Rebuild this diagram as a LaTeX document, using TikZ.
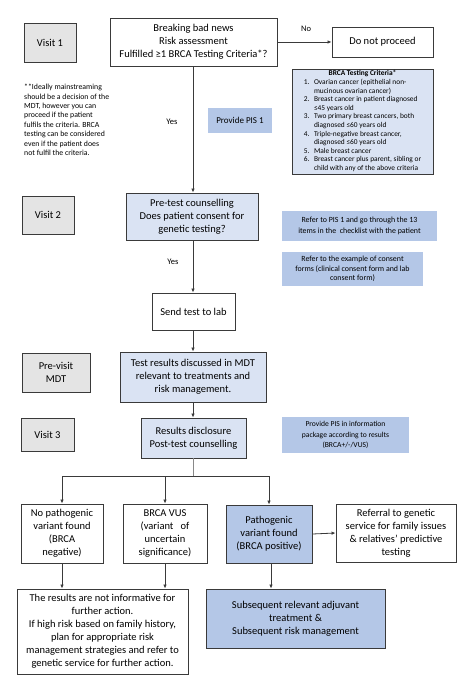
\documentclass[tikz,border=0pt]{standalone}
\usepackage{fontspec}
\setmainfont{Carlito}
\usetikzlibrary{arrows.meta}
\definecolor{lineC}{HTML}{3A3A3A}
\definecolor{grayF}{HTML}{E4E4E4}
\definecolor{lblue}{HTML}{DAE3F3}
\definecolor{mblue}{HTML}{B4C7E7}
\begin{document}
\begin{tikzpicture}[x=1pt,y=-1pt,
  box/.style={draw=lineC,line width=0.9pt,fill=white,align=center,inner sep=1pt,font=\fontsize{10.5}{13}\selectfont},
  visitbox/.style={box,fill=grayF},
  lbox/.style={box,fill=lblue},
  bbox/.style={box,fill=mblue},
  infobox/.style={fill=mblue,align=center,inner sep=1pt,font=\fontsize{8}{10.5}\selectfont},
  lbl/.style={font=\fontsize{8.5}{10}\selectfont,inner sep=0pt},
  conn/.style={draw=lineC,line width=0.8pt},
  arr/.style={conn,-{Latex[length=4pt,width=3.5pt]}}
]
\useasboundingbox (0,0) rectangle (474,684);
\fill[white] (0,0) rectangle (474,684);

% left column
\node[visitbox,minimum width=52pt,minimum height=39pt] (visit1) at (50,42.5) {Visit 1};
\node[visitbox,minimum width=52pt,minimum height=38pt] (visit2) at (48,215) {Visit 2};
\node[visitbox,minimum width=68pt,minimum height=39pt] (premdt) at (56,372.5) {Pre-visit\\MDT};
\node[visitbox,minimum width=53pt,minimum height=33pt] (visit3) at (47.5,434.5) {Visit 3};

\node[anchor=north west,align=left,inner sep=0pt,font=\fontsize{7.8}{9.4}\selectfont] (note) at (24,84)
 {**Ideally mainstreaming\\should be a decision of the\\MDT, however you can\\proceed if the patient\\fulfils the criteria. BRCA\\testing can be considered\\even if the patient does\\not fulfil the criteria.};

% main column
\node[box,minimum width=167pt,minimum height=48pt] (top) at (193.5,42) {Breaking bad news\\Risk assessment\\Fulfilled ≥1 BRCA Testing Criteria*?};
\node[box,minimum width=101pt,minimum height=30pt] (dnp) at (382.5,42) {Do not proceed};
\node[lbox,minimum width=132pt,minimum height=47pt] (pretest) at (192,216.5) {Pre-test counselling\\Does patient consent for\\genetic testing?};
\node[box,minimum width=83pt,minimum height=37pt] (lab) at (193.5,311.5) {Send test to lab};
\node[lbox,minimum width=146pt,minimum height=50pt] (mdt) at (193,377) {Test results discussed in MDT\\relevant to treatments and\\risk management.};
\node[lbox,minimum width=105pt,minimum height=40pt] (disc) at (193.5,438) {Results disclosure\\Post-test counselling};

% info boxes
\node[infobox,minimum width=64pt,minimum height=25pt,font=\fontsize{9}{10}\selectfont] (pis1) at (240,120.5) {Provide PIS 1};
\node[infobox,minimum width=155pt,minimum height=30pt,font=\fontsize{7.9}{11}\selectfont] (refer1) at (359.5,226) {Refer to PIS 1 and go through the 13\\items in the\ \ checklist with the patient};
\node[infobox,minimum width=141pt,minimum height=34pt,font=\fontsize{7.9}{9.8}\selectfont] (refer2) at (352.5,269) {Refer to the example of consent\\forms (clinical consent form and lab\\consent form)};
\node[infobox,minimum width=127pt,minimum height=36pt,font=\fontsize{7.6}{10.4}\selectfont] (pis2) at (345.5,435) {Provide PIS in information\\package according to results\\(BRCA+/-/VUS)};

% criteria
\node[draw=lineC,line width=0.9pt,fill=lblue,minimum width=141pt,minimum height=105pt,inner sep=0pt,font=\fontsize{7.4}{8.6}\selectfont] (crit) at (362.5,121.5) {%
\begin{tabular}{@{}l@{\hspace{4.5pt}}l@{}}
\multicolumn{2}{c}{\bfseries BRCA Testing Criteria*}\\
1. & Ovarian cancer (epithelial non-\\
   & mucinous ovarian cancer)\\
2. & Breast cancer in patient diagnosed\\
   & ≤45 years old\\
3. & Two primary breast cancers, both\\
   & diagnosed ≤60 years old\\
4. & Triple-negative breast cancer,\\
   & diagnosed ≤60 years old\\
5. & Male breast cancer\\
6. & Breast cancer plus parent, sibling or\\
   & child with any of the above criteria
\end{tabular}};

% results row
\node[box,minimum width=82pt,minimum height=59pt] (nopath) at (62,533.5) {No pathogenic\\variant found\\(BRCA\\negative)};
\node[box,minimum width=84pt,minimum height=59pt] (vus) at (165,533.5) {BRCA VUS\\(variant\ \ \ of\\uncertain\\significance)};
\node[bbox,minimum width=86pt,minimum height=58pt] (path) at (269,534) {Pathogenic\\variant found\\(BRCA positive)};
\node[box,minimum width=120pt,minimum height=58pt] (referral) at (396,533) {Referral to genetic\\service for family issues\\\& relatives’ predictive\\testing};
\node[box,minimum width=171pt,minimum height=85pt] (notinf) at (102.5,631.5) {The results are not informative for\\further action.\\If high risk based on family history,\\plan for appropriate risk\\management strategies and refer to\\genetic service for further action.};
\node[bbox,minimum width=179pt,minimum height=59pt] (subseq) at (295.5,618.5) {Subsequent relevant adjuvant\\treatment \&\\Subsequent risk management};

% labels
\node[lbl] (nolbl) at (306,29) {No};
\node[lbl] (yes1) at (172,122) {Yes};
\node[lbl] (yes2) at (173,262) {Yes};

% connectors
\draw[arr] (top.east) -- (dnp.west);
\draw[arr] (top.south -| 193,0) -- (pretest.north -| 193,0);
\draw[arr] (pretest.south -| 193,0) -- (lab.north -| 193,0);
\draw[arr] (lab.south -| 193,0) -- (mdt.north -| 193,0);
\draw[arr] (mdt.south -| 193,0) -- (disc.north -| 193,0);
\coordinate (split) at (193,476);
\coordinate (sl) at (62,476);
\coordinate (sr) at (269,476);
\draw[conn,draw=lineC!60] (disc.south -| split) -- (split);
\draw[conn] (sl) -- (sr);
\draw[arr] (sl) -- (nopath.north);
\draw[arr] (sl -| vus.north) -- (vus.north);
\draw[arr] (sr) -- (path.north -| sr);
\draw[arr] (path.east) -- (referral.west);
\draw[arr] (nopath.south) -- (notinf.north -| nopath.south);
\draw[arr] (vus.south) -- (notinf.north -| vus.south);
\draw[arr] (path.south -| 271,0) -- (subseq.north -| 271,0);
\end{tikzpicture}
\end{document}
